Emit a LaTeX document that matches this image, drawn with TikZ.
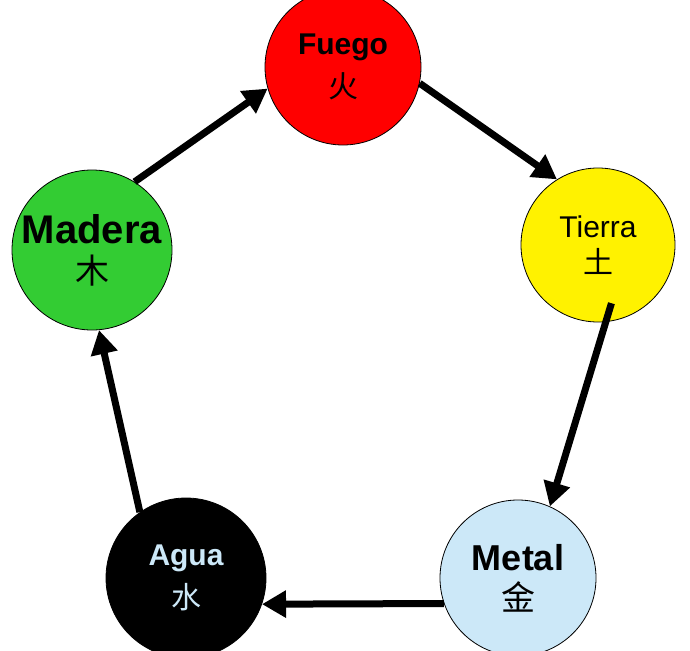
\documentclass[tikz,border=0pt]{standalone}
\usepackage{fontspec}
\setmainfont{Liberation Sans}
\newfontfamily\cjk{Noto Sans CJK SC}
\usetikzlibrary{arrows.meta}
\definecolor{lb}{HTML}{CCE8F8}
\definecolor{gr}{HTML}{33CC33}
\begin{document}
\begin{tikzpicture}[x=1pt,y=-1pt,
  el/.style={circle,draw=black,line width=0.8pt,minimum size=#1,inner sep=0pt,align=center,font=\bfseries},
  ar/.style={line width=7pt,-{Triangle[length=24pt,width=26pt]}}]
\useasboundingbox (0,0) rectangle (690,650);
\node[el=156pt,fill=red] (fuego) at (343,67) {\fontsize{30}{36}\selectfont Fuego\\[10pt]{\cjk\mdseries\fontsize{30}{32}\selectfont 火}};
\node[el=154pt,fill=yellow] (tierra) at (598,245) {\fontsize{30}{36}\selectfont\mdseries Tierra\\[10pt]{\cjk\mdseries\fontsize{30}{32}\selectfont 土}};
\node[el=156pt,fill=lb] (metal) at (518,578) {\fontsize{36}{40}\selectfont Metal\\[10pt]{\cjk\mdseries\fontsize{34}{36}\selectfont 金}};
\node[el=160pt,fill=black,text=lb] (agua) at (186,578) {\fontsize{30}{36}\selectfont Agua\\[10pt]{\cjk\mdseries\fontsize{30}{32}\selectfont 水}};
\node[el=160pt,fill=gr] (madera) at (92,250) {\fontsize{40}{44}\selectfont Madera\\[10pt]{\cjk\mdseries\fontsize{34}{36}\selectfont 木}};
\draw[ar] (madera.58) -- (fuego.196);
\draw[ar] (fuego.-12) -- (tierra.122);
\draw[ar] ([yshift=18pt]tierra.-80) -- (metal.66);
\draw[ar] (metal.199) -- (agua.-19);
\draw[ar] (agua.125) -- (madera.-85);
\end{tikzpicture}
\end{document}
